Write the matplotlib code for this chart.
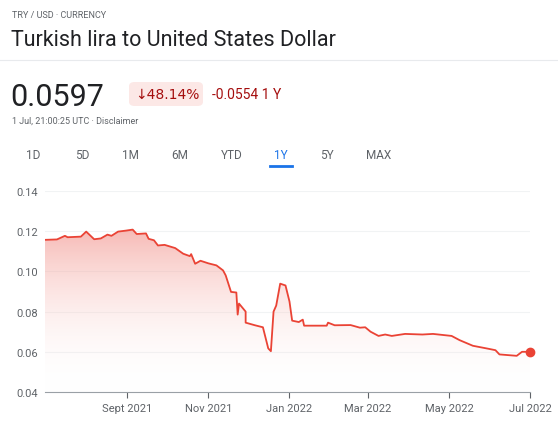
import datetime as dt

import matplotlib

matplotlib.use("Agg")
import matplotlib.dates as mdates
import numpy as np
from matplotlib import pyplot as plt
from matplotlib.patches import FancyBboxPatch, Polygon

# days since 1 Jul 2021, rate in USD
day_offsets = [0, 9, 15, 17, 27, 31, 37, 42, 47, 50, 55, 61, 66, 69, 76, 78, 82, 85, 90, 98,
               104, 109, 110, 113, 117, 123, 129, 134, 136, 140, 144, 145, 146, 151, 151,
               158, 164, 168, 170, 172, 174, 177, 181, 184, 186, 191, 194, 195, 212, 213,
               218, 230, 237, 241, 245, 251, 256, 261, 271, 284, 292, 306, 312, 322, 333,
               339, 342, 355, 359, 365]
rates = [0.1157, 0.1159, 0.1177, 0.1170, 0.1173, 0.1198, 0.1160, 0.1164, 0.1183, 0.1177,
         0.1198, 0.1203, 0.1208, 0.1186, 0.1189, 0.1162, 0.1155, 0.1129, 0.1132, 0.1116,
         0.1088, 0.1076, 0.1086, 0.1038, 0.1053, 0.1040, 0.1030, 0.1005, 0.0980, 0.0898,
         0.0895, 0.0785, 0.0840, 0.0800, 0.0745, 0.0732, 0.0722, 0.0617, 0.0603, 0.0800,
         0.0830, 0.0939, 0.0930, 0.0850, 0.0755, 0.0748, 0.0760, 0.0730, 0.0730, 0.0745,
         0.0732, 0.0733, 0.0720, 0.0722, 0.0700, 0.0679, 0.0686, 0.0679, 0.0689, 0.0686,
         0.0689, 0.0679, 0.0658, 0.0630, 0.0616, 0.0608, 0.0587, 0.0580, 0.0600, 0.0600]
tabs = ["1D", "5D", "1M", "6M", "YTD", "1Y", "5Y", "MAX"]
tab_x = [33, 82, 130, 180, 232, 281, 327, 379]

start = dt.date(2021, 7, 1)
dates = [start + dt.timedelta(days=d) for d in day_offsets]
xs = mdates.date2num(dates)

W, H = 558, 431
fig = plt.figure(figsize=(W / 100, H / 100), dpi=100)
plt.rcParams["font.family"] = ["Roboto", "DejaVu Sans"]


def fx(px):
    return px / W


def fy(py):
    return 1 - py / H


fig.text(fx(12), fy(15), "TRY / USD · CURRENCY", fontsize=6.5, color="#5f6368", va="center")
fig.text(fx(11), fy(40), "Turkish lira to United States Dollar", fontsize=15.5, color="#202124", va="center")
fig.add_artist(plt.Line2D([0, 1], [fy(61), fy(61)], color="#e8eaed", lw=0.8))
fig.text(fx(10), fy(98), "0.0597", fontsize=22, color="#202124", va="center")
fig.add_artist(FancyBboxPatch((fx(129), fy(107)), fx(74), 24 / H,
                              boxstyle="round,pad=0,rounding_size=0.01",
                              fc="#fce8e6", ec="none", transform=fig.transFigure))
fig.text(fx(135), fy(95), "↓48.14%", fontsize=10, color="#a50e0e", va="center",
         family=["DejaVu Sans"])
fig.text(fx(212), fy(95), "-0.0554 1 Y", fontsize=10, color="#a50e0e", va="center")
fig.text(fx(12), fy(121), "1 Jul, 21:00:25 UTC · Disclaimer", fontsize=6.5, color="#5f6368", va="center")
for label, x in zip(tabs, tab_x):
    fig.text(fx(x), fy(156), label, fontsize=8.5, ha="center", va="center",
             color="#1a73e8" if label == "1Y" else "#5f6368")
fig.add_artist(plt.Line2D([fx(270), fx(292)], [fy(167), fy(167)], color="#1a73e8", lw=2))

ax = fig.add_axes([fx(45), fy(393), fx(485), (393 - 192) / H])
ax.plot(xs, rates, color="#ea4335", lw=1.3, zorder=3)
ax.plot(xs[-1], rates[-1], "o", color="#ea4335", ms=6, zorder=4, clip_on=False)
ymin, ymax = 0.04, 0.14
grad = np.linspace(0, 1, 256).reshape(-1, 1)
cmap = matplotlib.colors.LinearSegmentedColormap.from_list(
    "f", [(1, 1, 1, 0), (0.95, 0.55, 0.52, 0.6)])
img = ax.imshow(grad, aspect="auto", cmap=cmap, origin="lower",
                extent=[xs[0], xs[-1], ymin, max(rates)], zorder=1)
poly = Polygon(list(zip(xs, rates)) + [(xs[-1], ymin), (xs[0], ymin)],
               closed=True, fc="none", ec="none")
ax.add_patch(poly)
img.set_clip_path(poly)

ax.set_xlim(xs[0], xs[-1])
ax.set_ylim(ymin, ymax)
ax.set_yticks([0.04, 0.06, 0.08, 0.10, 0.12, 0.14])
ax.set_yticklabels(["0.04", "0.06", "0.08", "0.10", "0.12", "0.14"])
ticks = [dt.date(2021, 9, 1), dt.date(2021, 11, 1), dt.date(2022, 1, 1),
         dt.date(2022, 3, 1), dt.date(2022, 5, 1), dt.date(2022, 7, 1)]
ax.set_xticks(mdates.date2num(ticks))
ax.set_xticklabels(["Sept 2021", "Nov 2021", "Jan 2022", "Mar 2022", "May 2022", "Jul 2022"])
ax.tick_params(axis="y", length=0, labelsize=8, colors="#5f6368", pad=5)
ax.tick_params(axis="x", length=4, labelsize=8, colors="#5f6368", pad=4)
ax.grid(axis="y", color="#f1f3f4", lw=0.8)
for s in ["top", "right", "left"]:
    ax.spines[s].set_visible(False)
ax.spines["bottom"].set_color("#9aa0a6")
ax.set_axisbelow(True)

fig.savefig("out.png", dpi=100)
